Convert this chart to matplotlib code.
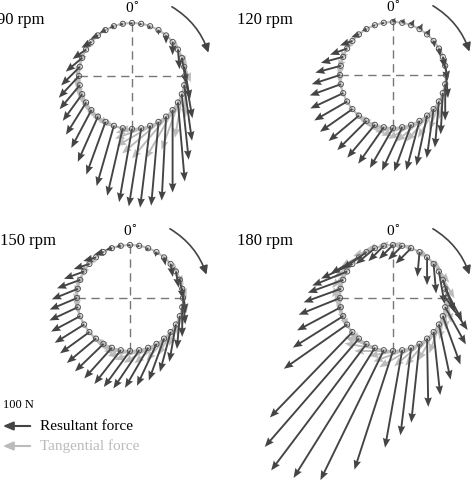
import numpy as np
import matplotlib
matplotlib.use("Agg")
import matplotlib.pyplot as plt
from matplotlib.patches import Circle, FancyArrowPatch

plt.rcParams['font.family'] = ['Liberation Serif', 'DejaVu Serif']

angles_deg = list(range(0, 360, 10))
panel_labels = ["90 rpm", "120 rpm", "150 rpm", "180 rpm"]

# resultant force magnitude (N) per crank angle
mag_90 = [10,10,12,15,25,40,60,80,100,130,170,200,240,250,255,255,250,240,
          225,210,190,170,150,130,115,100,95,90,80,65,50,35,25,20,15,12]
mag_120 = [15,15,20,20,20,20,25,35,45,70,110,125,140,150,155,155,150,145,
           140,135,130,125,120,120,115,110,100,90,80,70,55,40,25,15,10,10]
mag_150 = [10,10,12,15,25,40,50,60,75,80,90,100,115,125,135,140,140,140,
           135,130,125,120,115,110,105,100,95,90,85,75,65,50,40,30,20,15]
mag_180 = [60,60,66,75,84,90,100,105,110,117,129,156,171,192,207,240,267,300,
           378,438,465,480,435,360,234,180,150,135,120,114,114,105,99,90,75,66]
# direction (deg, measured from straight down, positive = towards left)
dir_90 = [60,60,40,0,0,0,-5,-10,-10,-10,-8,-6,-5,0,3,5,7,9,
          10,13,16,20,24,28,32,36,40,43,45,50,55,60,65,65,65,65]
dir_120 = [-150,-150,-150,-150,-150,-10,-10,-10,-10,-5,0,3,5,8,12,15,20,25,
           30,35,40,45,50,55,60,65,70,72,75,75,70,70,70,70,70,70]
dir_150 = [75,75,45,15,-10,-10,-10,-10,-8,-5,0,5,10,15,20,25,30,34,
           36,38,42,46,50,54,58,62,65,67,68,70,70,72,74,75,75,75]
dir_180 = [45,45,45,5,0,-5,-10,-20,-28,-34,-29,-20,-12,-6,-1,6,7,10,
           18,26,32,37,41,44,55,58,62,68,70,70,68,65,60,55,50,45]

mags = [mag_90, mag_120, mag_150, mag_180]
dirs = [dir_90, dir_120, dir_150, dir_180]

centers = [(132, 76), (393, 75), (130, 298), (393, 298)]
radius = 53
px_per_N = 0.33

fig = plt.figure(figsize=(4.74, 4.86), dpi=100)
ax = fig.add_axes([0, 0, 1, 1])
ax.set_xlim(0, 474)
ax.set_ylim(486, 0)
ax.axis('off')

dark = '#444444'
light = '#bbbbbb'
th = np.radians(angles_deg)
for (cx, cy), m, d in zip(centers, mags, dirs):
    m = np.array(m, float); d = np.radians(d)
    px = cx + radius * np.sin(th)
    py = cy - radius * np.cos(th)
    fx = -m * np.sin(d) * px_per_N
    fy = m * np.cos(d) * px_per_N
    tx, ty = np.cos(th), np.sin(th)
    proj = fx * tx + fy * ty
    ax.add_patch(Circle((cx, cy), radius, fill=False, ec=light, lw=1.5, zorder=1))
    ax.plot([cx - radius, cx + radius], [cy, cy], ls=(0, (6, 4)), color='#777777', lw=1, zorder=1)
    ax.plot([cx, cx], [cy - radius, cy + radius], ls=(0, (6, 4)), color='#777777', lw=1, zorder=1)
    ax.quiver(px, py, proj * tx, proj * ty, angles='xy', scale_units='xy', scale=1,
              color=light, width=0.004, headwidth=4, headlength=5, headaxislength=4.5, zorder=2)
    ax.quiver(px, py, fx, fy, angles='xy', scale_units='xy', scale=1,
              color=dark, width=0.004, headwidth=4, headlength=5, headaxislength=4.5, zorder=3)
    ax.scatter(px, py, s=14, facecolor='none', edgecolor='#555555', lw=0.7, zorder=4)
    ax.text(cx, cy - radius - 22, "0$^{\\circ}$", ha='center', va='top', fontsize=11)
    a0, a1 = np.radians(28), np.radians(75)
    r2 = 80
    arr = FancyArrowPatch((cx + r2 * np.sin(a0), cy - r2 * np.cos(a0)),
                          (cx + r2 * np.sin(a1), cy - r2 * np.cos(a1)),
                          connectionstyle="arc3,rad=-0.2", arrowstyle='-|>,head_length=5,head_width=2.5',
                          color=dark, lw=1.2)
    ax.add_patch(arr)

label_pos = [(-3, 20), (237, 20), (0, 241), (237, 241)]
for (x, y), lab in zip(label_pos, panel_labels):
    ax.text(x, y, lab, fontsize=12, va='center', ha='left')

ax.text(3, 405, "100 N", fontsize=9, va='center')
ax.annotate('', xy=(0, 426), xytext=(100 * px_per_N, 426),
            arrowprops=dict(arrowstyle='-|>,head_length=0.6,head_width=0.25', color=dark, lw=1.5))
ax.text(40, 426, "Resultant force", fontsize=11, va='center')
ax.annotate('', xy=(0, 446), xytext=(100 * px_per_N, 446),
            arrowprops=dict(arrowstyle='-|>,head_length=0.6,head_width=0.25', color=light, lw=1.5))
ax.text(40, 446, "Tangential force", fontsize=11, va='center', color=light)

fig.savefig("out.png", dpi=100)
